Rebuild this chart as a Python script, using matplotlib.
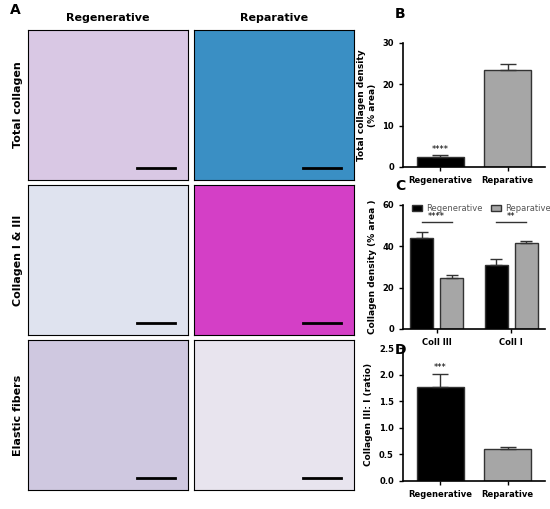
import matplotlib.pyplot as plt
import numpy as np

groups = ["Regenerative", "Reparative"]
total_vals = [2.4, 23.5]
total_err = [0.4, 1.3]
coll_cats = ["Coll III", "Coll I"]
coll_regen = [44.0, 31.0]
coll_regen_err = [3.0, 3.0]
coll_repar = [24.5, 41.5]
coll_repar_err = [1.5, 1.0]
ratio_vals = [1.77, 0.60]
ratio_err = [0.25, 0.04]
row_labels = ["Total collagen", "Collagen I & III", "Elastic fibers"]
tile_colors = [["#d9c8e4", "#3a8fc4"], ["#dfe3ef", "#d43fc6"], ["#cfc8e0", "#e8e4ee"]]

W, H = 550, 509
fig = plt.figure(figsize=(5.5, 5.09), dpi=100)
def ax_px(x0, y0, x1, y1):
    return fig.add_axes([x0 / W, 1 - y1 / H, (x1 - x0) / W, (y1 - y0) / H])

plt.rcParams['font.family'] = 'DejaVu Sans'
cols_x = [(28, 188), (194, 354)]
rows_y = [(30, 180), (185, 335), (340, 490)]
for r, (y0, y1) in enumerate(rows_y):
    for c, (x0, x1) in enumerate(cols_x):
        a = ax_px(x0, y0, x1, y1)
        a.set_facecolor(tile_colors[r][c])
        a.set_xticks([]); a.set_yticks([])
        a.set_xlim(0, 1); a.set_ylim(0, 1)
        a.plot([0.68, 0.92], [0.08, 0.08], color='black', lw=2)
    fig.text(18 / W, 1 - (y0 + y1) / 2 / H, row_labels[r], rotation=90, ha='center', va='center',
             fontsize=8, fontweight='bold')
fig.text(108 / W, 1 - 18 / H, groups[0], ha='center', va='center', fontsize=8, fontweight='bold')
fig.text(274 / W, 1 - 18 / H, groups[1], ha='center', va='center', fontsize=8, fontweight='bold')
fig.text(10 / W, 1 - 10 / H, "A", fontsize=10, fontweight='bold', va='center')
for lab, y in [("B", 14), ("C", 186), ("D", 350)]:
    fig.text(395 / W, 1 - y / H, lab, fontsize=10, fontweight='bold', va='center')

def style(a):
    for s in ['top', 'right']:
        a.spines[s].set_visible(False)
    for s in ['left', 'bottom']:
        a.spines[s].set_linewidth(1.2)
    a.tick_params(labelsize=6, width=1, length=3)
    for t in a.get_yticklabels():
        t.set_fontweight('bold')

b = ax_px(403, 43, 545, 167)
x = np.arange(2)
b.bar(x, total_vals, width=0.7, color=['black', '#a6a6a6'], edgecolor='#333333', lw=1)
b.errorbar(x, total_vals, yerr=[[0, 0], total_err], fmt='none', ecolor='#333333', capsize=6, lw=1)
b.set_ylim(0, 30); b.set_yticks([0, 10, 20, 30]); b.set_xlim(-0.55, 1.55)
b.set_xticks(x); b.set_xticklabels(groups, fontsize=7.5, fontweight='bold')
b.set_ylabel("Total collagen density\n(% area)", fontsize=6.5, fontweight='bold')
b.text(0, total_vals[0] + total_err[0] + 0.8, "****", ha='center', fontsize=6)
style(b)

c = ax_px(403, 205, 545, 329)
xc = np.arange(2)
w = 0.3
c.bar(xc - 0.2, coll_regen, w, color='black', edgecolor='#333333', lw=1, label=groups[0])
c.bar(xc + 0.2, coll_repar, w, color='#a6a6a6', edgecolor='#333333', lw=1, label=groups[1])
c.errorbar(xc - 0.2, coll_regen, yerr=[[0, 0], coll_regen_err], fmt='none', ecolor='#333333', capsize=4, lw=1)
c.errorbar(xc + 0.2, coll_repar, yerr=[[0, 0], coll_repar_err], fmt='none', ecolor='#333333', capsize=4, lw=1)
c.set_ylim(0, 60); c.set_yticks([0, 20, 40, 60]); c.set_xlim(-0.45, 1.45)
c.set_xticks(xc); c.set_xticklabels(coll_cats, fontsize=7.5, fontweight='bold')
c.set_ylabel("Collagen density (% area )", fontsize=6.5, fontweight='bold')
for xi, s in zip(xc, ["****", "**"]):
    c.plot([xi - 0.2, xi + 0.2], [52, 52], color='#333333', lw=1)
    c.text(xi, 53, s, ha='center', fontsize=6)
c.legend(loc='upper center', bbox_to_anchor=(0.55, 1.07), ncol=2, fontsize=6, frameon=False,
         handlelength=1.2, columnspacing=1.0, handletextpad=0.5, labelcolor='#555555')
style(c)

d = ax_px(403, 348, 545, 481)
d.bar(x, ratio_vals, width=0.7, color=['black', '#a6a6a6'], edgecolor='#333333', lw=1)
d.errorbar(x, ratio_vals, yerr=[[0, 0], ratio_err], fmt='none', ecolor='#333333', capsize=6, lw=1)
d.set_ylim(0, 2.5); d.set_yticks([0, 0.5, 1.0, 1.5, 2.0, 2.5]); d.set_xlim(-0.55, 1.55)
d.set_xticks(x); d.set_xticklabels(groups, fontsize=7.5, fontweight='bold')
d.set_ylabel("Collagen III: I (ratio)", fontsize=6.5, fontweight='bold')
d.text(0, ratio_vals[0] + ratio_err[0] + 0.07, "***", ha='center', fontsize=6)
style(d)

fig.savefig("out.png", dpi=100)
